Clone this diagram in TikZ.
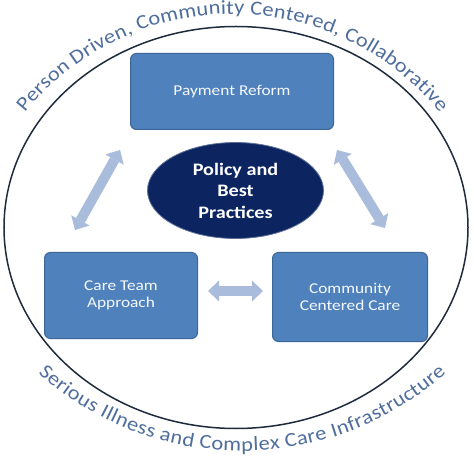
\documentclass[tikz,border=0pt]{standalone}
\usepackage{fontspec}
\setmainfont{Carlito}
\newfontfamily\boxfont[FakeStretch=1.155]{Carlito}
\newfontfamily\arcfont[FakeStretch=1.12]{Carlito}
\usetikzlibrary{arrows.meta,decorations.text,shapes.geometric}
\definecolor{boxblue}{HTML}{4F81BD}
\definecolor{boxedge}{HTML}{3D6696}
\definecolor{navy}{HTML}{0C2561}
\definecolor{navyedge}{HTML}{5D7198}
\definecolor{arrowc}{HTML}{A9BCDB}
\definecolor{ringc}{HTML}{1E2A3D}
\definecolor{arctext}{HTML}{4F6E9E}
\begin{document}
\begin{tikzpicture}[x=1pt,y=1pt,
  box/.style={draw=boxedge, line width=1pt, fill=boxblue, rounded corners=6pt,
    text=white!95!boxblue, align=center, font=\boxfont\fontsize{15}{17.5}\selectfont},
  policy/.style={ellipse, draw=navyedge, line width=0.8pt, fill=navy, text=white,
    align=center, inner sep=0pt, font=\boxfont\bfseries\fontsize{17.5}{21.5}\selectfont},
  blockarrow/.style={draw=arrowc, line width=10pt,
    {Triangle[width=21pt,length=11pt,line width=0pt]}-{Triangle[width=21pt,length=11pt,line width=0pt]}},
  ring/.style={draw=ringc, line width=1.5pt}
]
\useasboundingbox (0,0) rectangle (474,461);
\fill[white] (0,0) rectangle (474,461);

% outer ring
\node[ellipse, ring, minimum width=464pt, minimum height=402pt, inner sep=0pt] (ring) at (236,233.5) {};

% arc texts
\path[decorate, decoration={text along path, text align={fit to path}, text color=arctext,
  text={|\arcfont\fontsize{20}{24}\selectfont|Person Driven, Community Centered, Collaborative}}]
  ([shift={(232.5,180)}]141:267) arc[start angle=141, end angle=39, radius=267];
\path[decorate, decoration={text along path, text align={fit to path}, text color=arctext,
  text={|\arcfont\fontsize{20}{24}\selectfont|Serious Illness and Complex Care Infrastructure}}]
  ([shift={(242,316)}]228.2:306) arc[start angle=228.2, end angle=311.8, radius=306];

% boxes
\node[box, minimum width=203pt, minimum height=76pt] (pay) at (232,369.5) {Payment Reform};
\node[box, minimum width=153pt, minimum height=86pt] (care) at (121,165.5) {Care Team\\Approach};
\node[box, minimum width=155pt, minimum height=89pt] (comm) at (350,164) {Community\\Centered Care};
\node[policy, minimum width=176pt, minimum height=96pt] (pol) at (235.5,270.5) {Policy and\\Best\\Practices};

% arrow ends
\coordinate (la1) at (120,311);
\coordinate (la2) at (75,231);
\coordinate (ra1) at (337,311);
\coordinate (ra2) at (385,233);
\coordinate (ha1) at (208,170);
\coordinate (ha2) at (263,170);

\draw[blockarrow] (la1) -- (la2);
\draw[blockarrow] (ra1) -- (ra2);
\draw[blockarrow] (ha1) -- (ha2);
\end{tikzpicture}
\end{document}
